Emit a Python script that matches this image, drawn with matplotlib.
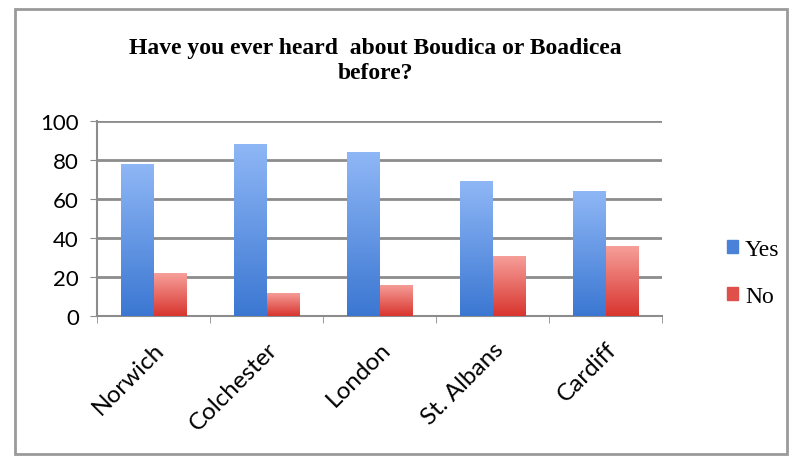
import numpy as np
import matplotlib
matplotlib.use("Agg")
import matplotlib.pyplot as plt
from matplotlib.colors import LinearSegmentedColormap
from matplotlib.patches import Rectangle

cities = ["Norwich", "Colchester", "London", "St. Albans", "Cardiff"]
yes = [78, 88, 84, 69, 64]
no = [22, 12, 16, 31, 36]

blue_cmap = LinearSegmentedColormap.from_list("b", ["#3b77d2", "#8fb7f6"])
red_cmap = LinearSegmentedColormap.from_list("r", ["#d8352e", "#f7a09b"])


def gradient_bars(ax, bars, cmap):
    grad = np.linspace(0, 1, 256).reshape(-1, 1)
    for b in bars:
        x, y = b.get_x(), b.get_y()
        w, h = b.get_width(), b.get_height()
        im = ax.imshow(grad, cmap=cmap, origin="lower", aspect="auto",
                       extent=[x, x + w, y, y + h], zorder=3)
        im.set_clip_path(b)
        b.set_facecolor("none")


fig = plt.figure(figsize=(7.96, 4.6), dpi=100)
fig.patches.append(Rectangle((15 / 796, 5 / 460), 772 / 796, 445 / 460,
                             transform=fig.transFigure, fill=False,
                             edgecolor="#9a9a9a", linewidth=2))

ax = fig.add_axes([97 / 796, 143 / 460, 565 / 796, 195 / 460])
x = np.arange(len(cities))
w = 0.285
b1 = ax.bar(x - w / 2, yes, w, color="#5b8fe0", zorder=3, linewidth=0)
b2 = ax.bar(x + w / 2, no, w, color="#e65a55", zorder=3, linewidth=0)
gradient_bars(ax, b1, blue_cmap)
gradient_bars(ax, b2, red_cmap)

ax.set_xlim(-0.5, len(cities) - 0.5)
ax.set_ylim(0, 100)
ax.set_yticks(range(0, 101, 20))
ax.yaxis.grid(True, color="#8c8c8c", linewidth=2)
ax.set_axisbelow(True)
for s in ["top", "right"]:
    ax.spines[s].set_visible(False)
ax.spines["left"].set_color("#8c8c8c")
ax.spines["bottom"].set_color("#8c8c8c")
ax.spines["left"].set_linewidth(1.5)
ax.spines["bottom"].set_linewidth(1.5)

ax.set_xticks(x)
ax.set_xticklabels(cities, rotation=45, ha="right", rotation_mode="anchor",
                   fontsize=17.5, family="Lato")
ax.tick_params(axis="x", length=0, pad=16)
ax.set_xticks(np.arange(-0.5, len(cities)), minor=True)
ax.tick_params(axis="x", which="minor", length=5, color="#8c8c8c")
ax.tick_params(axis="y", length=5, color="#8c8c8c", labelsize=16, pad=8)
for t in ax.get_yticklabels():
    t.set_family("Lato")

fig.text(375 / 796, 1 - 61 / 460,
         "Have you ever heard  about Boudica or Boadicea\nbefore?",
         ha="center", va="center", fontsize=17, fontweight="bold",
         family="Liberation Serif", linespacing=1.25)

handles = [Rectangle((0, 0), 1, 1, color="#4a82da"),
           Rectangle((0, 0), 1, 1, color="#e0504b")]
fig.legend(handles, ["Yes", "No"], loc="center left",
           bbox_to_anchor=(706 / 796, 1 - 274 / 460), frameon=False,
           prop={"family": "Liberation Serif", "size": 17},
           handlelength=0.45, handleheight=0.45, handletextpad=0.3,
           labelspacing=1.1)

fig.savefig("out.png")
